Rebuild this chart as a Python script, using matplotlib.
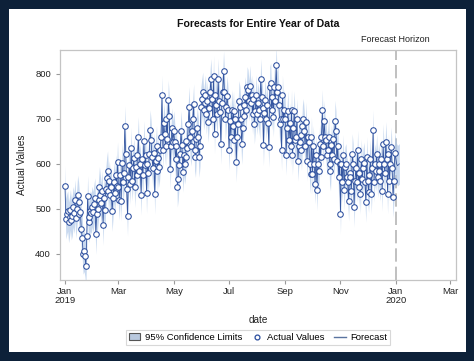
import numpy as np
import pandas as pd
import matplotlib
matplotlib.use("Agg")
import matplotlib.pyplot as plt
from matplotlib.patches import Patch, Rectangle
from matplotlib.lines import Line2D

plt.rcParams['font.family'] = ['Liberation Sans', 'DejaVu Sans']

# daily actual values for 2019
jan = [551, 478, 488, 495, 470, 482, 498, 476, 485, 505, 490, 520, 480, 500, 530, 515, 488, 492, 455, 436,
       400, 406, 395, 373, 440, 529, 470, 482, 495, 490, 505]
feb = [493, 510, 524, 444, 488, 500, 520, 549, 530, 512, 540, 464, 525, 498, 545, 569, 584, 540, 562, 530,
       548, 495, 524, 560, 535, 575, 550, 604]
mar = [548, 520, 575, 518, 603, 560, 580, 684, 622, 545, 485, 570, 598, 555, 636, 563, 590, 612, 548, 593,
       575, 620, 660, 585, 600, 531, 610, 575, 651, 598, 620]
apr = [535, 600, 580, 622, 675, 652, 615, 590, 625, 533, 607, 640, 585, 612, 593, 630, 660, 752, 631, 690,
       667, 640, 700, 655, 741, 707, 589, 640, 680, 649]
may = [673, 649, 610, 640, 549, 566, 598, 622, 673, 641, 582, 620, 600, 615, 650, 635, 689, 727, 660, 640,
       673, 700, 733, 630, 615, 655, 680, 660, 615, 640, 727]
jun = [744, 759, 720, 735, 752, 710, 740, 693, 725, 760, 789, 745, 700, 796, 667, 752, 730, 710, 789, 740,
       715, 644, 735, 760, 806, 759, 700, 727, 750, 720]
jul = [630, 695, 660, 720, 685, 717, 652, 700, 604, 660, 689, 740, 727, 700, 644, 680, 707, 730, 749, 720,
       771, 764, 740, 774, 735, 752, 710, 744, 689, 717, 752]
aug = [710, 735, 720, 700, 789, 749, 725, 641, 712, 742, 700, 730, 690, 638, 771, 780, 720, 749, 705, 771,
       740, 820, 760, 771, 730, 689, 700, 630, 752, 700, 720]
sep = [700, 620, 680, 717, 652, 690, 640, 720, 620, 680, 717, 652, 660, 700, 607, 640, 649, 665, 630, 685,
       700, 673, 640, 693, 607, 660, 649, 600, 578, 660]
oct_ = [578, 640, 600, 556, 620, 541, 600, 585, 644, 615, 660, 720, 640, 696, 660, 652, 620, 630, 660, 600,
        585, 641, 620, 655, 610, 696, 673, 607, 640, 570, 600]
nov = [489, 600, 560, 620, 541, 593, 600, 570, 560, 518, 580, 570, 540, 622, 600, 504, 563, 590, 560, 630,
       549, 580, 534, 610, 566, 590, 603, 560, 515, 615]
dec = [563, 537, 575, 610, 534, 590, 675, 560, 600, 585, 622, 570, 600, 585, 563, 610, 540, 644, 600, 580,
       649, 610, 534, 622, 563, 600, 637, 590, 526, 563, 625]

actual = jan + feb + mar + apr + may + jun + jul + aug + sep + oct_ + nov + dec
# forecast follows the data, then a few days past the horizon
ahead = [612, 600, 596, 598, 600]
forecast = actual + ahead
ci_half = 45

xtick_dates = ['2019-01-01', '2019-03-01', '2019-05-01', '2019-07-01', '2019-09-01',
               '2019-11-01', '2020-01-01', '2020-03-01']
xtick_labels = ['Jan\n2019', 'Mar', 'May', 'Jul', 'Sep', 'Nov', 'Jan\n2020', 'Mar']
yticks = [400, 500, 600, 700, 800]
horizon = '2020-01-01'

dates = pd.date_range('2019-01-01', periods=len(actual), freq='D')
fdates = pd.date_range('2019-01-01', periods=len(forecast), freq='D')
f = np.array(forecast, dtype=float)

fig = plt.figure(figsize=(4.74, 3.61), dpi=100)
fig.patch.set_facecolor('#0d2139')
fig.add_artist(Rectangle((9 / 474, 1 - 352 / 361), 457 / 474, 343 / 361,
                         transform=fig.transFigure, facecolor='white', edgecolor='none', zorder=0))

ax = fig.add_axes([60 / 474, 1 - 280 / 361, 396 / 474, 230 / 361])
ax.fill_between(fdates, f - ci_half, f + ci_half, color='#b2cae9', alpha=0.7, linewidth=0, zorder=1)
ax.plot(fdates, f, color='#3556a0', linewidth=0.6, zorder=2)
ax.plot(dates, actual, linestyle='none', marker='o', markersize=4.0, markerfacecolor='white',
        markeredgecolor='#2a4d9e', markeredgewidth=0.75, zorder=3)

ax.axvline(pd.Timestamp(horizon), color='#b5b5b5', linewidth=1.2, dashes=(8, 3), zorder=0)
ax.text(pd.Timestamp(horizon), 1.045, 'Forecast Horizon', transform=ax.get_xaxis_transform(),
        ha='center', va='center', fontsize=6.5, color='#222222')

ax.set_xlim(pd.Timestamp('2019-01-01') - pd.Timedelta(days=5.5),
            pd.Timestamp('2020-01-01') + pd.Timedelta(days=66.5))
ax.set_ylim(342, 853)
ax.set_xticks([pd.Timestamp(d) for d in xtick_dates])
ax.set_xticklabels(xtick_labels, linespacing=1.0)
ax.set_yticks(yticks)

for s in ax.spines.values():
    s.set_color('#c4c4c4')
    s.set_linewidth(0.9)
ax.tick_params(axis='both', colors='#9a9a9a', labelcolor='#222222', labelsize=6.8, length=3, width=0.8)
ax.tick_params(axis='x', pad=2)

ax.set_xlabel('date', fontsize=7.2, color='#222222', labelpad=7)
ax.set_ylabel('Actual Values', fontsize=7.2, color='#222222', labelpad=6)
fig.text(258 / 474, 1 - 24 / 361, 'Forecasts for Entire Year of Data', ha='center', va='center',
         fontsize=7.6, fontweight='bold', color='#111111')

handles = [Patch(facecolor='#b8c8de', edgecolor='#555555', linewidth=0.8),
           Line2D([], [], linestyle='none', marker='o', markersize=3.5, markerfacecolor='white',
                  markeredgecolor='#2a4d9e', markeredgewidth=0.9),
           Line2D([], [], color='#5a74a0', linewidth=1.0)]
leg = fig.legend(handles, ['95% Confidence Limits', 'Actual Values', 'Forecast'],
                 loc='center', bbox_to_anchor=(258 / 474, 1 - 337.5 / 361), ncol=3, fontsize=6.8,
                 frameon=True, fancybox=False, handlelength=1.2, handletextpad=0.5, columnspacing=1.0,
                 borderpad=0.3)
leg.get_frame().set_edgecolor('#cfcfcf')
leg.get_frame().set_linewidth(0.8)

fig.savefig('out.png', dpi=100, facecolor=fig.get_facecolor())
